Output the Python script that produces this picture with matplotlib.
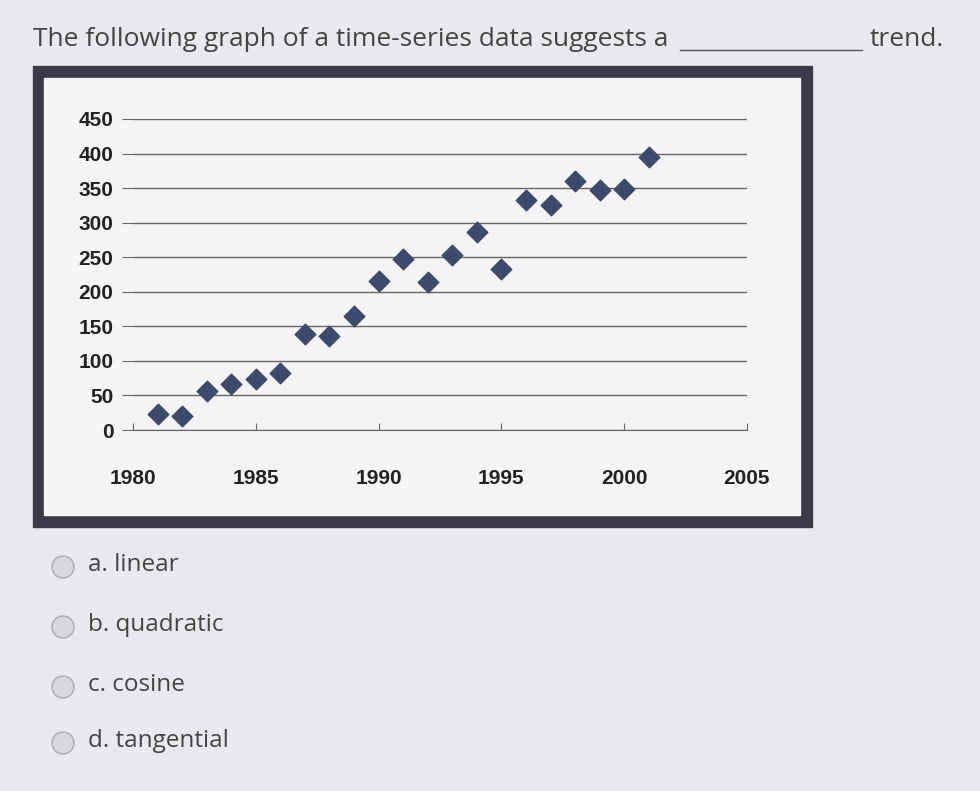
import matplotlib
matplotlib.use("Agg")
import matplotlib.pyplot as plt
from matplotlib.patches import Rectangle, Ellipse

years = [1981,1982,1983,1984,1985,1986,1987,1988,1989,1990,1991,1992,1993,1994,1995,1996,1997,1998,1999,2000,2001]
values = [23,20,56,67,74,82,139,136,165,216,247,214,253,286,233,333,326,360,347,349,395]
yticks = [0,50,100,150,200,250,300,350,400,450]
xticks = [1980,1985,1990,1995,2000,2005]
options = ["a. linear","b. quadratic","c. cosine","d. tangential"]

W, H = 980, 791
fig = plt.figure(figsize=(W/100, H/100), dpi=100)
fig.patch.set_facecolor("#e9e9ed")

def fx(x): return x / W
def fy(y): return 1 - y / H

fig.patches.append(Rectangle((fx(33), fy(527)), 779/W, 461/H, transform=fig.transFigure, color="#3b3a48", zorder=0))
fig.patches.append(Rectangle((fx(44), fy(515)), 756/W, 437/H, transform=fig.transFigure, color="#f4f4f6", zorder=1))

fig.text(fx(33), fy(40), "The following graph of a time-series data suggests a", fontsize=19, family="Open Sans", color="#444444", va="center")
fig.add_artist(plt.Line2D([fx(680), fx(862)], [fy(50), fy(50)], color="#555555", lw=1))
fig.text(fx(870), fy(40), "trend.", fontsize=19, family="Open Sans", color="#444444", va="center")

for i, opt in enumerate(options):
    yy = [567, 627, 687, 743][i]
    fig.patches.append(Ellipse((fx(63), fy(yy)), 22/W, 22/H, transform=fig.transFigure, facecolor="#d8d8dc", edgecolor="#aaaaaa", zorder=2))
    fig.text(fx(88), fy(yy - 2), opt, fontsize=17.5, family="Open Sans", color="#444444", va="center")

ax = fig.add_axes([fx(133), fy(430), 614/W, 311/H])
ax.set_facecolor("none")
ax.set_zorder(3)
ax.scatter(years, values, marker="D", s=110, color="#3c4a6e", zorder=3)
ax.set_xlim(1980, 2005)
ax.set_ylim(0, 450)
ax.set_yticks(yticks)
ax.set_xticks(xticks)
ax.grid(axis="y", color="#666666", lw=1)
for s in ["top", "right", "left"]:
    ax.spines[s].set_visible(False)
ax.spines["bottom"].set_color("#666666")
ax.tick_params(axis="y", length=8, color="#666666", labelsize=15, pad=6)
ax.tick_params(axis="x", length=5, direction="in", color="#666666", labelsize=15, pad=28)
for lab in ax.get_xticklabels() + ax.get_yticklabels():
    lab.set_family("Liberation Sans Narrow" if False else "Liberation Sans")
    lab.set_fontweight("bold")
    lab.set_color("#222222")

fig.savefig("out.png", dpi=100, facecolor=fig.get_facecolor())
